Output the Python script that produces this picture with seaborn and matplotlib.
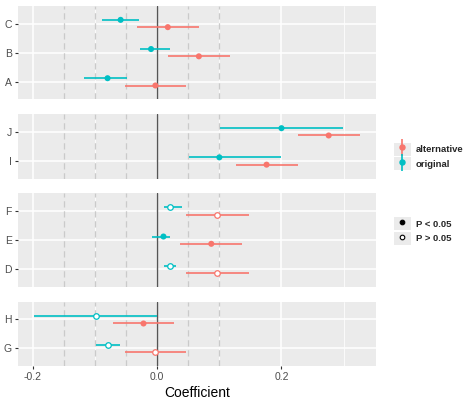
import numpy as np
import pandas as pd
import matplotlib
matplotlib.use("Agg")
import matplotlib.pyplot as plt
import seaborn as sns
from matplotlib.lines import Line2D
from matplotlib.patches import Rectangle
from matplotlib.legend_handler import HandlerErrorbar, HandlerLine2D

# ---------------- data ----------------
terms = ["A", "B", "C", "I", "J", "D", "E", "F", "G", "H"]
panel = [1, 1, 1, 2, 2, 3, 3, 3, 4, 4]
orig_est = [-0.080, -0.010, -0.059, 0.100, 0.200, 0.020, 0.010, 0.020, -0.080, -0.099]
orig_lo = [-0.118, -0.028, -0.089, 0.051, 0.101, 0.011, -0.009, 0.011, -0.098, -0.198]
orig_hi = [-0.049, 0.020, -0.030, 0.200, 0.299, 0.030, 0.020, 0.040, -0.060, 0.000]
orig_sig = [True, True, True, True, True, False, True, False, False, False]
alt_est = [-0.003, 0.067, 0.017, 0.176, 0.276, 0.097, 0.087, 0.097, -0.003, -0.023]
alt_lo = [-0.052, 0.018, -0.033, 0.127, 0.227, 0.047, 0.037, 0.047, -0.052, -0.072]
alt_hi = [0.047, 0.117, 0.067, 0.226, 0.326, 0.147, 0.137, 0.147, 0.047, 0.027]
alt_sig = [True, True, True, True, True, False, True, False, False, True]
models = ["alternative", "original"]
model_colors = {"alternative": "#F8766D", "original": "#00BFC4"}
model_offset = {"alternative": -0.125, "original": 0.125}
x_ticks = [-0.2, 0.0, 0.2]
x_tick_labels = ["-0.2", "0.0", "0.2"]
minor_ticks = [-0.1, 0.1, 0.3]
ref_lines = [-0.15, -0.1, -0.05, 0.05, 0.1]
p_labels = ["P < 0.05", "P > 0.05"]

rows = []
for i, t in enumerate(terms):
    rows.append(dict(term=t, panel=panel[i], model="original", est=orig_est[i],
                     lo=orig_lo[i], hi=orig_hi[i], sig=orig_sig[i]))
    rows.append(dict(term=t, panel=panel[i], model="alternative", est=alt_est[i],
                     lo=alt_lo[i], hi=alt_hi[i], sig=alt_sig[i]))
df = pd.DataFrame(rows)

# ---------------- style ----------------
sns.set_theme(style="darkgrid")
plt.rcParams["font.family"] = ["Liberation Sans", "DejaVu Sans"]
bg = "#EBEBEB"

panels = sorted(set(panel))
ncat = [sum(1 for p in panel if p == k) for k in panels]
ratios = [n - 1 + 1.2 for n in ncat]

fig = plt.figure(figsize=(4.74, 3.99), dpi=100)
gs = fig.add_gridspec(len(panels), 1, height_ratios=ratios,
                      left=18 / 474, right=376 / 474,
                      top=1 - 6 / 399, bottom=1 - 366 / 399, hspace=0.19)

xmin = min(df["lo"].min(), df["est"].min())
xmax = max(df["hi"].max(), df["est"].max())
pad = (xmax - xmin) * 0.05

axes = []
for k, p in enumerate(panels):
    ax = fig.add_subplot(gs[k])
    axes.append(ax)
    ax.set_facecolor(bg)
    sub = df[df["panel"] == p].copy()
    cats = list(dict.fromkeys(sub["term"]))
    ypos = {c: j for j, c in enumerate(cats)}
    sub["y"] = sub["term"].map(ypos) + sub["model"].map(model_offset)

    ax.set_xlim(xmin - pad, xmax + pad)
    ax.set_ylim(-0.6, len(cats) - 1 + 0.6)
    ax.grid(False)
    for xv in minor_ticks:
        ax.axvline(xv, color="white", lw=0.55, zorder=0.5)
    for xv in x_ticks:
        ax.axvline(xv, color="white", lw=1.1, zorder=0.5)
    for yv in range(len(cats)):
        ax.axhline(yv, color="white", lw=1.1, zorder=0.5)
    for xv in ref_lines:
        ax.axvline(xv, color="#CACACA", lw=0.9, dashes=(5, 3), zorder=0.8)
    ax.axvline(0, color="#555555", lw=1.0, zorder=0.9)

    for m in models:
        s = sub[sub["model"] == m]
        ax.hlines(s["y"], s["lo"], s["hi"], color=model_colors[m], lw=1.2, zorder=2)
    filled = sub[sub["sig"]]
    sns.scatterplot(data=filled, x="est", y="y", hue="model", palette=model_colors,
                    s=19, linewidth=0, ax=ax, legend=False, zorder=3)
    for m in models:
        s = sub[(sub["model"] == m) & (~sub["sig"])]
        ax.scatter(s["est"], s["y"], s=16, facecolors="white",
                   edgecolors=model_colors[m], linewidths=0.9, zorder=3)

    ax.set_yticks(range(len(cats)))
    ax.set_yticklabels(cats)
    ax.set_xlabel("")
    ax.set_ylabel("")
    for sp in ax.spines.values():
        sp.set_visible(False)
    ax.tick_params(axis="y", length=2.5, width=0.8, color="#333333", pad=2,
                   labelsize=7.5, labelcolor="#4D4D4D", left=True)
    if k < len(panels) - 1:
        ax.set_xticks(x_ticks)
        ax.tick_params(axis="x", bottom=False, labelbottom=False)
    else:
        ax.set_xticks(x_ticks)
        ax.set_xticklabels(x_tick_labels)
        ax.tick_params(axis="x", length=2.5, width=0.8, color="#333333", pad=2,
                       labelsize=7.5, labelcolor="#4D4D4D", bottom=True)
        ax.set_xlabel("Coefficient", fontsize=10, color="black", labelpad=3)


# ---------------- legends ----------------
class KeyBG:
    def __init__(self, inner):
        self.inner = inner

    def legend_artist(self, legend, orig_handle, fontsize, handlebox):
        rect = Rectangle((-handlebox.xdescent, -handlebox.ydescent),
                         handlebox.width, handlebox.height,
                         facecolor=bg, edgecolor="none",
                         transform=handlebox.get_transform())
        handlebox.add_artist(rect)
        return self.inner.legend_artist(legend, orig_handle, fontsize, handlebox)


ax0 = axes[0]
model_handles = []
for m in models:
    h = ax0.errorbar([np.nan], [np.nan], yerr=[np.nan], fmt="o", color=model_colors[m],
                     ms=3.6, elinewidth=1.2, capsize=0)
    model_handles.append(h)
leg1 = fig.legend(model_handles, models, loc="center left",
                  bbox_to_anchor=(394 / 474, 1 - 156.5 / 399), frameon=False,
                  borderpad=0, borderaxespad=0, handlelength=1.75, handleheight=1.75,
                  handletextpad=0.55, labelspacing=0.18, fontsize=6.8,
                  handler_map={type(model_handles[0]): KeyBG(HandlerErrorbar(xerr_size=0.9, yerr_size=0.9))})
for t in leg1.get_texts():
    t.set_fontweight("bold")

p_handles = [Line2D([], [], ls="none", marker="o", ms=3.3, mfc="black", mec="black", mew=0.8),
             Line2D([], [], ls="none", marker="o", ms=3.3, mfc="white", mec="black", mew=0.8)]
leg2 = fig.legend(p_handles, p_labels, loc="center left",
                  bbox_to_anchor=(394 / 474, 1 - 231 / 399), frameon=False,
                  borderpad=0, borderaxespad=0, handlelength=1.75, handleheight=1.75,
                  handletextpad=0.55, labelspacing=0.18, fontsize=6.8,
                  handler_map={Line2D: KeyBG(HandlerLine2D())})
for t in leg2.get_texts():
    t.set_fontweight("bold")

fig.savefig("out.png", dpi=100)
